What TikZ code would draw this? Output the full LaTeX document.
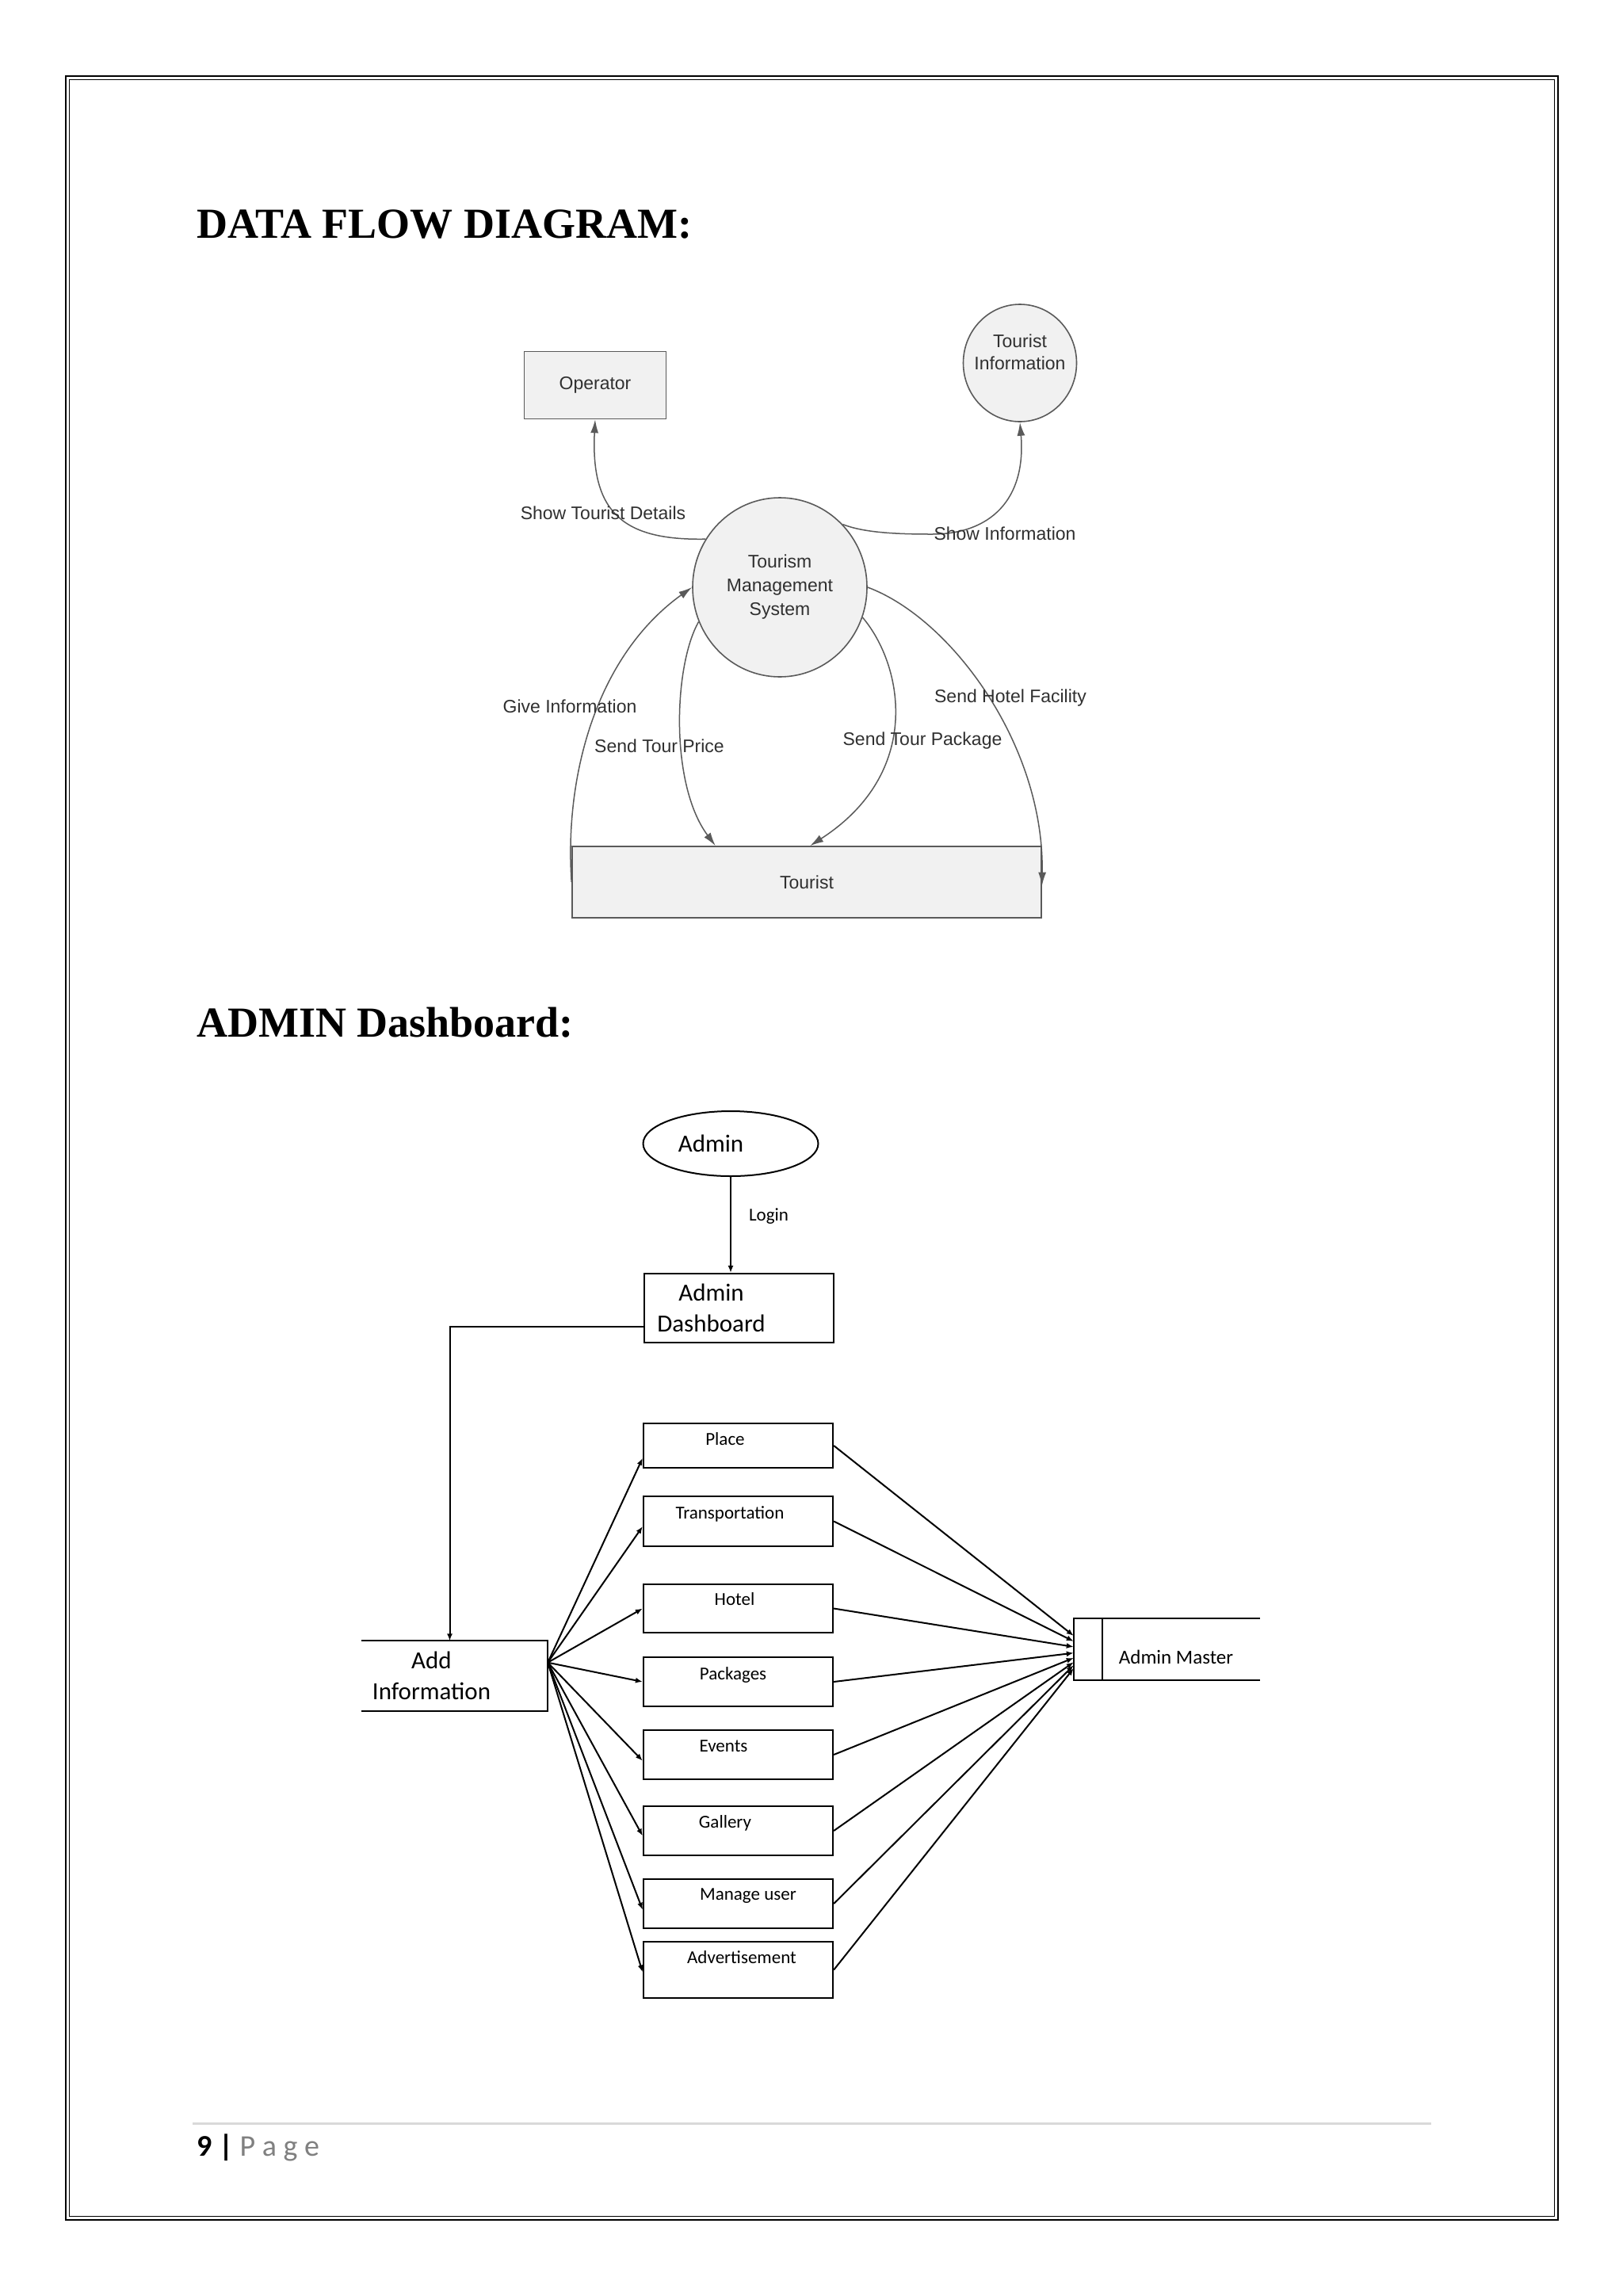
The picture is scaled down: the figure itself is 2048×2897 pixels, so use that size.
\documentclass[tikz,border=0pt]{standalone}
\usepackage{fontspec}
\setmainfont{Liberation Serif}
\newfontfamily\arialf{Liberation Sans}
\newfontfamily\calf{Carlito}
\usetikzlibrary{arrows.meta,calc,shapes.geometric}
\definecolor{dfdline}{HTML}{5A5A5A}
\definecolor{dfdtxt}{HTML}{303030}
\definecolor{dfdfill}{HTML}{F1F1F1}
\begin{document}
\begin{tikzpicture}[x=1pt,y=-1pt,
  dfdshape/.style={draw=dfdline, line width=1.6, fill=dfdfill, inner sep=0, font=\arialf\fontsize{23}{28}\selectfont, text=dfdtxt, align=center},
  dfdlbl/.style={inner sep=0, font=\arialf\fontsize{23}{28}\selectfont, text=dfdtxt},
  dfdflow/.style={draw=dfdline, line width=1.5, -{Latex[length=17,width=10]}},
  abox/.style={draw, line width=2.2, rectangle, minimum width=239, inner sep=0},
  albl/.style={inner sep=0, font=\calf\fontsize{23}{28}\selectfont},
  abig/.style={inner sep=0, font=\calf\fontsize{31}{39}\selectfont, align=center},
  aflow/.style={line width=2, -{Latex[length=9,width=7]}},
  ttl/.style={anchor=base west, inner sep=0, font=\bfseries\fontsize{54}{60}\selectfont}
]
\useasboundingbox (0,0) rectangle (2048,2897);
\fill[white] (0,0) rectangle (2048,2897);

% page border
\draw[line width=2.4] (83,96) rectangle (1966,2801);
\draw[line width=1.8] (87.5,100.5) rectangle (1961.5,2796.5);

% titles
\node[ttl] (t1) at (248,300) {DATA FLOW DIAGRAM:};
\node[ttl] (t2) at (248,1308) {ADMIN Dashboard:};

% ---------------- DFD ----------------
\node[dfdshape, rectangle, minimum width=179, minimum height=85] (op) at (751,486) {Operator};
\node[dfdshape, ellipse, inner sep=-20pt, minimum width=143, minimum height=148] (ti) at (1287,458) {Tourist\\Information\\\mbox{}};
\node[dfdshape, ellipse, minimum width=220, minimum height=226, font=\arialf\fontsize{23}{30}\selectfont] (tms) at (984,741) {Tourism\\Management\\System};
\node[dfdshape, rectangle, minimum width=592, minimum height=90] (tourist) at (1018,1113) {Tourist};

\draw[dfdflow] (tms.147) .. controls (790,682) and (745,650) .. (op.south);
\draw[dfdflow] (tms.45) .. controls (1090,672) and (1130,674) .. (1176,674) .. controls (1250,674) and (1295,630) .. (ti.south);
\draw[dfdflow] (tourist.west) .. controls (712,980) and (752,828) .. (tms.180);
\coordinate (tpE) at ($(tourist.north west)!0.306!(tourist.north east)$);
\draw[dfdflow] (tms.203) .. controls (850,840) and (845,990) .. (tpE);
\coordinate (tkE) at ($(tourist.north west)!0.507!(tourist.north east)$);
\draw[dfdflow] (tms.340) .. controls (1140,840) and (1165,975) .. (tkE);
\coordinate (thE) at ($(tourist.north east)!0.55!(tourist.south east)$);
\draw[dfdflow] (tms.0) .. controls (1200,780) and (1318,940) .. (thE);

\node[dfdlbl] (l1) at (761,647) {Show Tourist Details};
\node[dfdlbl] (l2) at (1268,673) {Show Information};
\node[dfdlbl] (l3) at (719,891) {Give Information};
\node[dfdlbl] (l4) at (832,941) {Send Tour Price};
\node[dfdlbl] (l5) at (1164,935) {Send Tour Package};
\node[dfdlbl] (l6) at (1275,881) {Send Hotel Facility};

% ---------------- Admin ----------------
\node[draw, line width=2, ellipse, minimum width=221, minimum height=82, inner sep=0, font=\calf\fontsize{31}{38}\selectfont] (admin) at (922,1443) {Admin\hspace*{50pt}};
\node[abox, minimum height=87, abig] (dash) at (932.5,1650.5) {Admin\hspace*{70pt}\\Dashboard\hspace*{70pt}};
\draw[aflow] (admin.south) -- (admin.south |- dash.north);
\node[albl] (login) at (970,1535) {Login};

\node[inner sep=0, minimum width=235, minimum height=88, abig] (addinfo) at (573.5,2114.5) {Add\hspace*{58pt}\\Information\hspace*{58pt}};
\draw[line width=2.2] (addinfo.north west) -- (addinfo.north east) -- (addinfo.south east) -- (addinfo.south west);
\draw[aflow] ($(dash.north west)!0.76!(dash.south west)$) -| ($(addinfo.north)+(-6,0)$);

\node[abox, minimum height=56] (place) at (931.5,1824) {};
\node[abox, minimum height=63] (trans) at (931.5,1919.5) {};
\node[abox, minimum height=61] (hotel) at (931.5,2029.5) {};
\node[abox, minimum height=62] (pack) at (931.5,2122) {};
\node[abox, minimum height=62] (events) at (931.5,2214) {};
\node[abox, minimum height=62] (gallery) at (931.5,2310) {};
\node[abox, minimum height=62] (manage) at (931.5,2402) {};
\node[abox, minimum height=71] (advert) at (931.5,2485.5) {};

\node[albl] (placeT) at (915,1816) {Place};
\node[albl] (transT) at (921,1910) {Transportation};
\node[albl] (hotelT) at (927,2018) {Hotel};
\node[albl] (packT) at (925,2113) {Packages};
\node[albl] (eventsT) at (913,2203) {Events};
\node[albl] (galleryT) at (915,2300) {Gallery};
\node[albl] (manageT) at (944,2392) {Manage user};
\node[albl] (advertT) at (936,2470) {Advertisement};

\node[inner sep=0, minimum width=235, minimum height=77] (master) at (1472.5,2081) {};
\draw[line width=2.2] (master.north east) -- (master.north west) -- (master.south west) -- (master.south east);
\draw[line width=2.2] ($(master.north west)+(36,0)$) -- ($(master.south west)+(36,0)$);
\node[inner sep=0, font=\calf\fontsize{25}{30}\selectfont] (masterT) at (1484,2091) {Admin Master};

\coordinate (fan) at ($(addinfo.north east)!0.31!(addinfo.south east)$);
\foreach \n/\f in {place/0.77, trans/0.6, hotel/0.5, pack/0.5, events/0.62, gallery/0.6, manage/0.62, advert/0.54}
  \draw[aflow] (fan) -- ($(\n.north west)!\f!(\n.south west)$);
\foreach \n/\f in {place/0.28, trans/0.37, hotel/0.46, pack/0.56, events/0.64, gallery/0.71, manage/0.76, advert/0.81}
  \draw[aflow] (\n.east) -- ($(master.north west)!\f!(master.south west)$);

% footer
\draw[line width=3, black!15] (243,2679) -- (1806,2679);
\node[anchor=base west, inner sep=0, font=\calf\fontsize{38}{44}\selectfont] (pg) at (248,2720) {\textbf{9 |} \textcolor{black!50}{P a g e}};
\end{tikzpicture}
\end{document}
